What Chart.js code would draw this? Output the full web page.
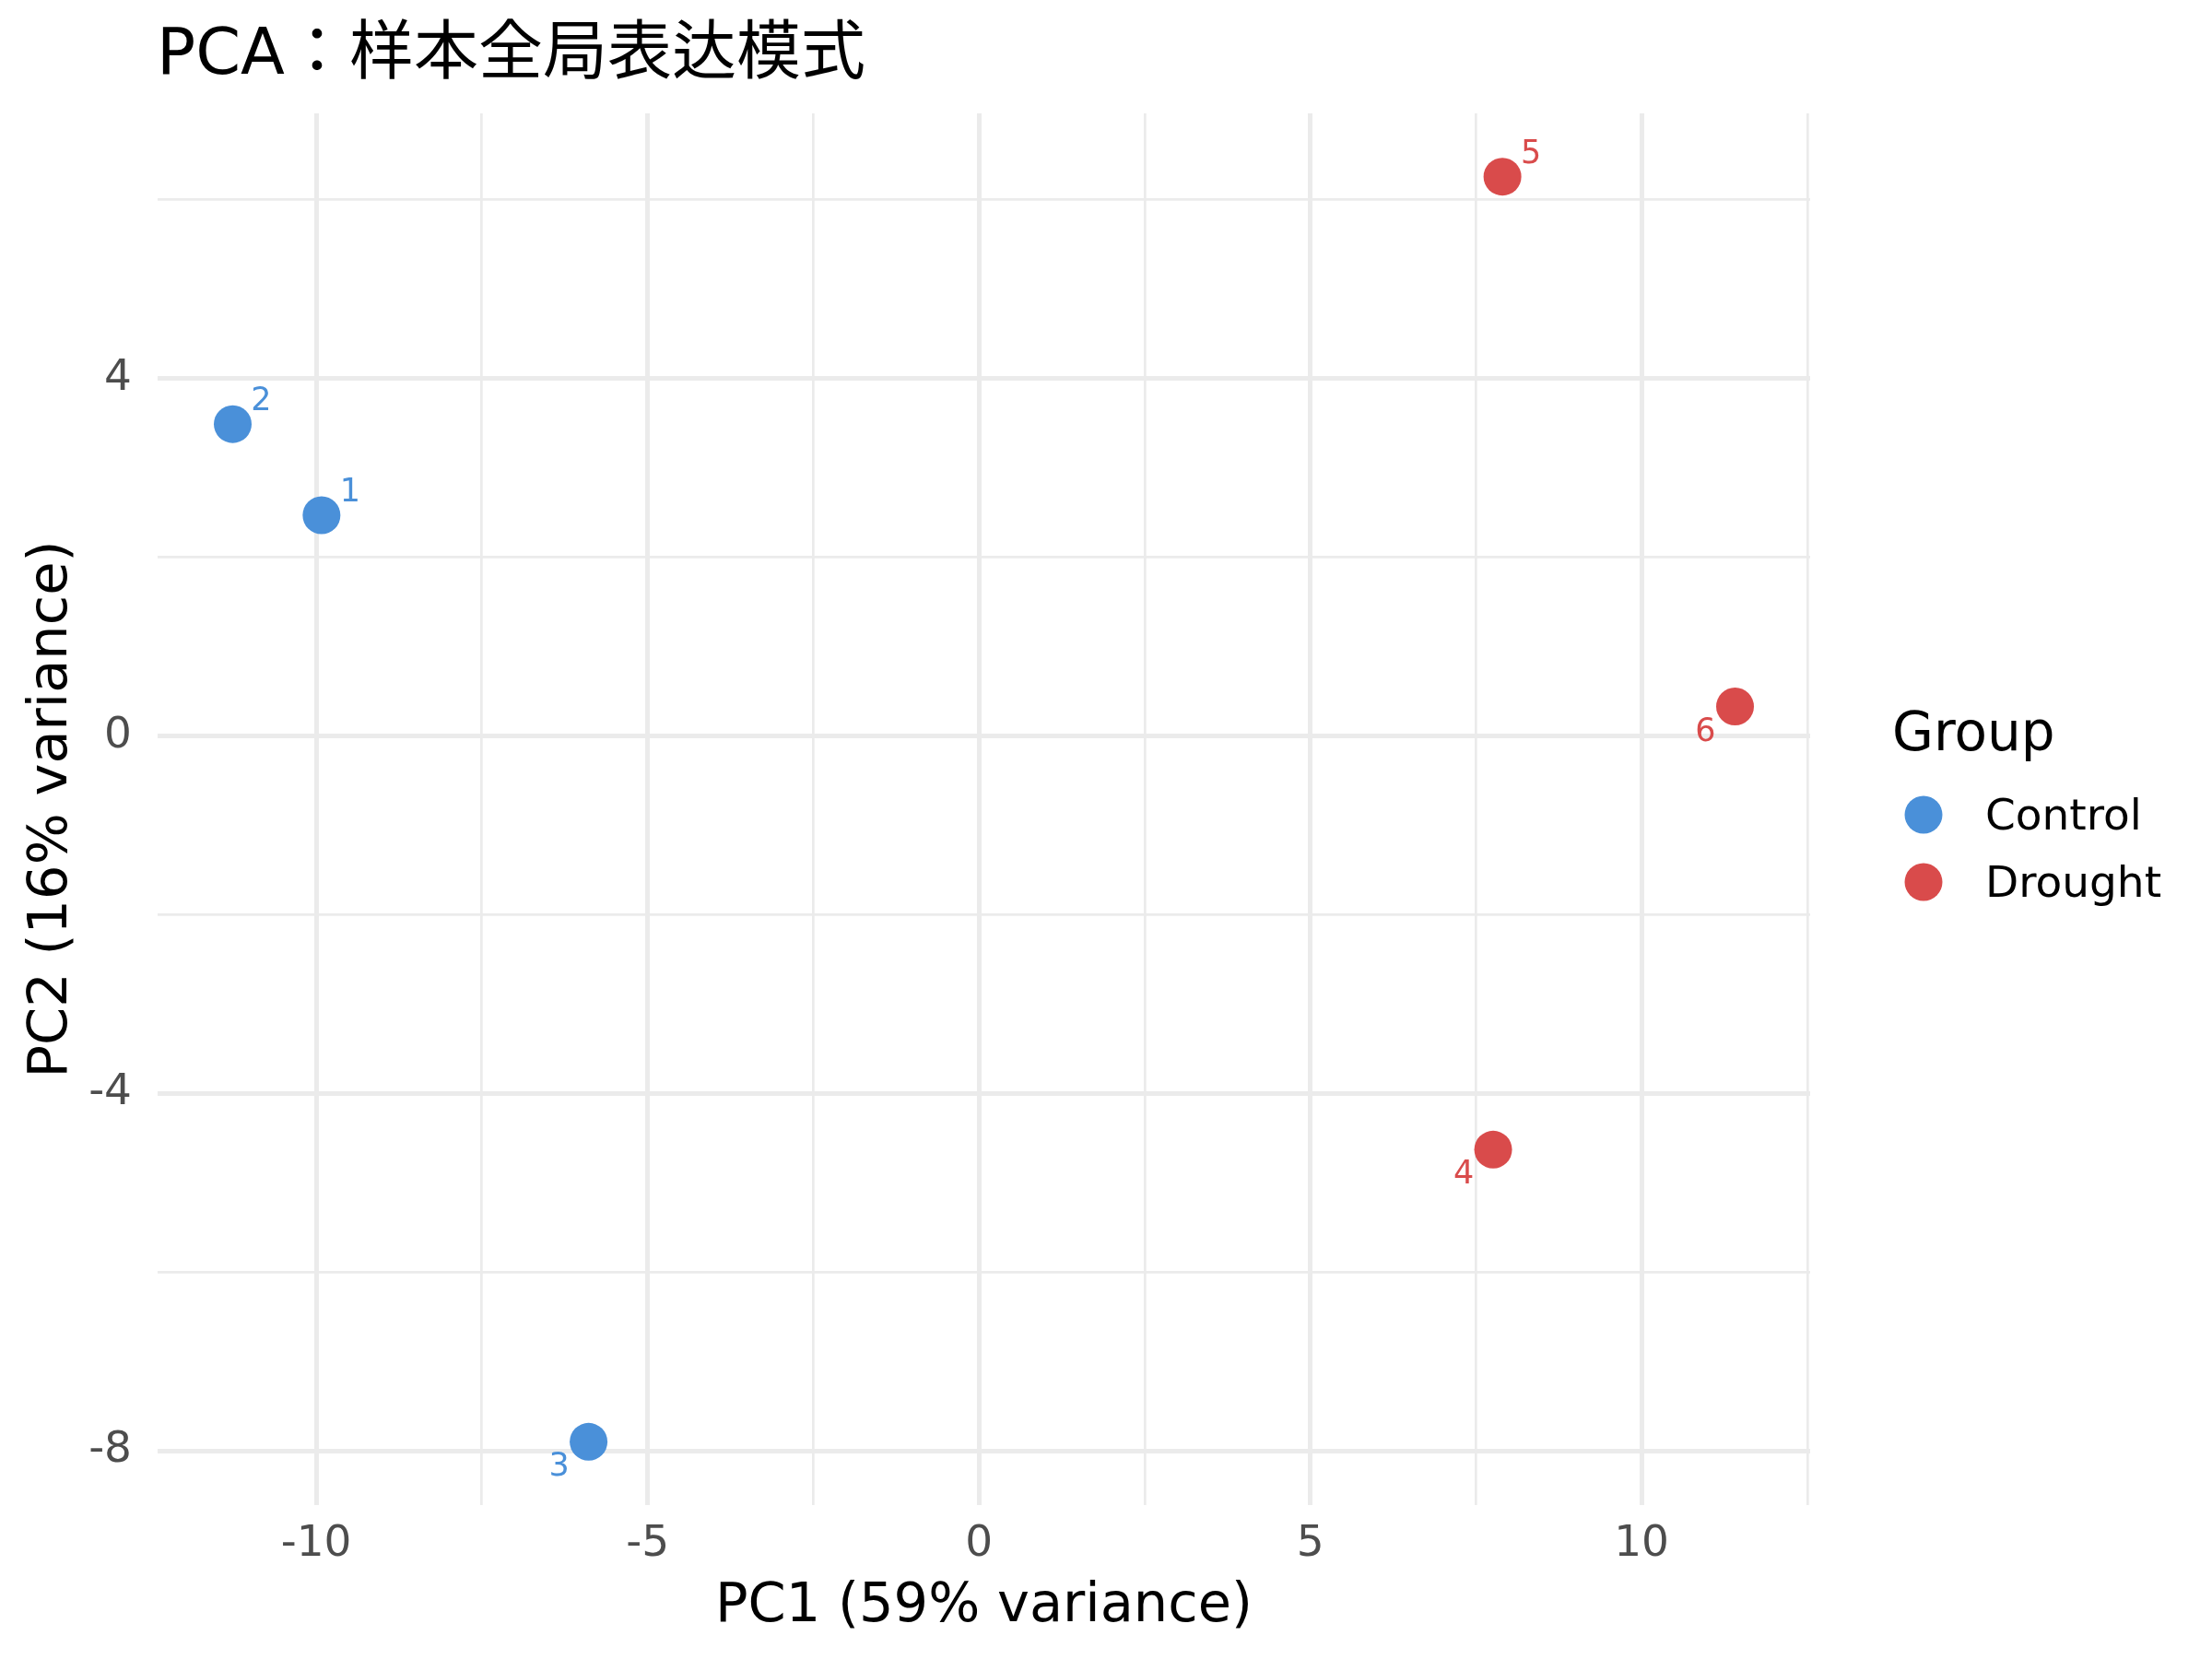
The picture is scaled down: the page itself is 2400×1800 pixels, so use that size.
<!DOCTYPE html>
<html>
<head>
<meta charset="utf-8">
<script src="https://cdn.jsdelivr.net/npm/chart.js@4"></script>
<style>
html, body { margin: 0; padding: 0; background: #ffffff; }
#wrap { position: relative; width: 2400px; height: 1800px; }
</style>
</head>
<body>
<div id="wrap"><canvas id="c"></canvas></div>
<script>
// ---- data ----
const chartTitle = 'PCA：样本全局表达模式';
const xAxisTitle = 'PC1 (59% variance)';
const yAxisTitle = 'PC2 (16% variance)';
const legendTitle = 'Group';
const groupNames = ['Control', 'Drought'];
const groupColors = ['#4A90D9', '#D94B4B'];
const sampleIds = ['1', '2', '3', '4', '5', '6'];
const sampleGroups = ['Control', 'Control', 'Control', 'Drought', 'Drought', 'Drought'];
const pc1 = [-9.92, -11.26, -5.89, 7.76, 7.90, 11.41];
const pc2 = [2.47, 3.49, -7.90, -4.63, 6.26, 0.33];
const labelSide = ['ur', 'ur', 'dl', 'dl', 'ur', 'dl'];
const xMajorTicks = [-10, -5, 0, 5, 10];
const yMajorTicks = [-8, -4, 0, 4];

// ---- ggplot-like 5% expansion of the axes ----
function expand(vals) {
  const mn = Math.min(...vals), mx = Math.max(...vals);
  const pad = (mx - mn) * 0.05;
  return [mn - pad, mx + pad];
}
const [xMin, xMax] = expand(pc1);
const [yMin, yMax] = expand(pc2);

const datasets = groupNames.map((g, gi) => {
  const pts = [];
  const ids = [];
  const sides = [];
  sampleGroups.forEach((sg, i) => {
    if (sg === g) { pts.push({x: pc1[i], y: pc2[i]}); ids.push(sampleIds[i]); sides.push(labelSide[i]); }
  });
  return {
    label: g,
    data: pts,
    sampleIds: ids,
    labelSides: sides,
    backgroundColor: groupColors[gi],
    borderColor: groupColors[gi],
    borderWidth: 0,
    pointRadius: 20.5,
    pointHoverRadius: 20.5
  };
});

const FONT = "'DejaVu Sans', 'Noto Sans CJK SC', sans-serif";
const TITLE_FONT = "'DejaVu Sans', 'Noto Sans CJK JP', sans-serif";
const GRID = '#EBEBEB';

const overlay = {
  id: 'overlay',
  afterDraw(chart) {
    const ctx = chart.ctx;
    const area = chart.chartArea;
    ctx.save();
    // title
    ctx.fillStyle = '#000000';
    ctx.font = '70px ' + TITLE_FONT;
    ctx.textAlign = 'left';
    ctx.textBaseline = 'alphabetic';
    ctx.fillText(chartTitle, area.left - 1, 80);

    // point labels
    ctx.font = '35px ' + FONT;
    ctx.textAlign = 'center';
    ctx.textBaseline = 'middle';
    chart.data.datasets.forEach((ds, di) => {
      const meta = chart.getDatasetMeta(di);
      meta.data.forEach((el, j) => {
        const side = ds.labelSides[j];
        const dx = side === 'ur' ? 31 : -32;
        const dy = side === 'ur' ? -24 : 28;
        ctx.fillStyle = ds.backgroundColor;
        ctx.fillText(ds.sampleIds[j], el.x + dx, el.y + dy);
      });
    });

    // legend
    const lx = 2053;
    ctx.fillStyle = '#000000';
    ctx.font = '58px ' + FONT;
    ctx.textAlign = 'left';
    ctx.textBaseline = 'alphabetic';
    ctx.fillText(legendTitle, lx, 814);
    ctx.font = '47px ' + FONT;
    ctx.textBaseline = 'middle';
    groupNames.forEach((g, gi) => {
      const cy = 884 + gi * 73;
      ctx.fillStyle = groupColors[gi];
      ctx.beginPath();
      ctx.arc(2087, cy, 20.5, 0, Math.PI * 2);
      ctx.fill();
      ctx.fillStyle = '#000000';
      ctx.fillText(g, 2154, cy + 4);
    });
    ctx.restore();
  }
};

new Chart(document.getElementById('c'), {
  type: 'scatter',
  data: { datasets },
  plugins: [overlay],
  options: {
    responsive: true,
    maintainAspectRatio: false,
    devicePixelRatio: 1,
    animation: false,
    layout: { padding: { top: 123, right: 436, bottom: 0, left: 0 } },
    plugins: {
      legend: { display: false },
      title: { display: false },
      tooltip: { enabled: false }
    },
    scales: {
      x: {
        type: 'linear',
        min: xMin,
        max: xMax,
        afterFit(scale) { scale.height = 167; },
        border: { display: false },
        grid: {
          color: GRID,
          drawTicks: false,
          lineWidth: (c) => (c.tick && xMajorTicks.includes(c.tick.value)) ? 5 : 2.7
        },
        ticks: {
          stepSize: 2.5,
          includeBounds: false,
          autoSkip: false,
          maxRotation: 0,
          minRotation: 0,
          padding: 15,
          color: '#4D4D4D',
          font: { family: FONT, size: 47 },
          callback: (v) => xMajorTicks.includes(v) ? String(v) : ''
        },
        title: {
          display: true,
          text: xAxisTitle,
          color: '#000000',
          font: { family: FONT, size: 59 },
          padding: { top: 0, bottom: 21 }
        }
      },
      y: {
        type: 'linear',
        min: yMin,
        max: yMax,
        afterFit(scale) { scale.width = 171; },
        border: { display: false },
        grid: {
          color: GRID,
          drawTicks: false,
          lineWidth: (c) => (c.tick && yMajorTicks.includes(c.tick.value)) ? 5 : 2.7
        },
        ticks: {
          stepSize: 2,
          includeBounds: false,
          autoSkip: false,
          padding: 28,
          color: '#4D4D4D',
          font: { family: FONT, size: 47 },
          callback: (v) => yMajorTicks.includes(v) ? String(v) : ''
        },
        title: {
          display: true,
          text: yAxisTitle,
          color: '#000000',
          font: { family: FONT, size: 59 },
          padding: { top: 21, bottom: 0 }
        }
      }
    }
  }
});
</script>
</body>
</html>
